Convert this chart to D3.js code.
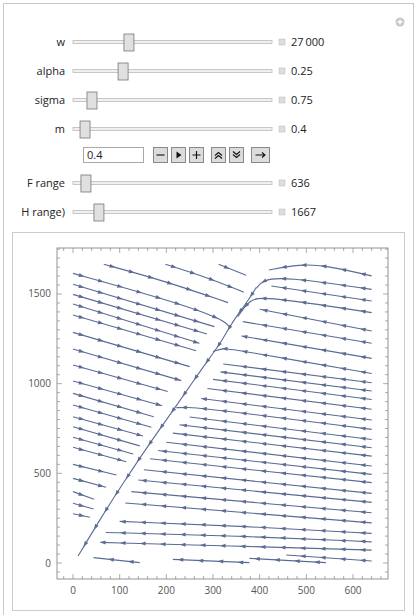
<!DOCTYPE html>
<html><head><meta charset="utf-8">
<script src="https://cdn.jsdelivr.net/npm/d3@7"></script>
<style>body{margin:0;background:#fff}svg{display:block}text{font-family:"Open Sans","DejaVu Sans",sans-serif}</style>
</head><body><svg id="c" width="417" height="615"></svg>
<script>
const sliderLabels=["w","alpha","sigma","m","F range","H range)"];
const sliderValues=["27\u2009000","0.25","0.75","0.4","636","1667"];
const sliderPos=[0.262,0.23,0.06,0.022,0.027,0.098];
const xTicks=[0,100,200,300,400,500,600];
const yTicks=[0,500,1000,1500];
// streamlines in data coordinates, listed in flow direction
const leftLines=[
[[66,1666],[200,1570],[332,1452]],
[[198,1666],[290,1590],[366,1510]],
[[312,1666],[371,1604]],
[[0,1615],[200,1470],[320,1362],[334,1320]],
[[0,1554],[303,1318]],
[[0,1498],[287,1277]],
[[0,1444],[271,1225]],
[[0,1383],[264,1184]],
[[0,1286],[250,1095]],
[[0,1193],[232,1017]],
[[0,1104],[203,956]],
[[0,1015],[191,877]],
[[0,946],[173,816]],
[[0,881],[168,757]],
[[0,816],[150,708]],
[[0,760],[143,653]],
[[0,701],[129,608]],
[[0,645],[114,565]],
[[0,550],[93,491]],
[[0,472],[71,422]],
[[0,398],[45,355]],
[[0,333],[44,301]],
[[0,275],[36,255]]];
const manifold=[[393,1537],[375,1463],[351,1378],[336,1318],[320,1244],[300,1169],[264,1039],[228,900],[164,667],[107,444],[57,240],[11,39]];
const rightLines=[
[[640,1601],[540,1660],[486,1666],[420,1634]],
[[640,1526],[450,1597],[407,1578],[393,1532]],
[[640,1461],[425,1545]],
[[640,1396],[407,1489],[378,1467],[353,1374]],
[[640,1294],[400,1415]],
[[640,1225],[364,1346]],
[[640,1141],[361,1266]],
[[640,1057],[345,1190],[321,1199],[300,1179]],
[[640,1005],[322,1110]],
[[640,959],[316,1066]],
[[640,912],[300,1024]],
[[640,857],[288,973]],
[[640,797],[275,917]],
[[640,745],[275,866],[243,868],[221,866]],
[[640,689],[250,814]],
[[640,643],[228,771]],
[[640,596],[214,724]],
[[640,541],[200,673]],
[[640,494],[182,627]],
[[640,448],[165,581]],
[[640,388],[152,520]],
[[640,338],[140,463]],
[[640,280],[125,398]],
[[640,224],[112,335]],
[[640,165],[370,205],[100,232]],
[[640,118],[350,152],[70,170]],
[[640,72],[330,96],[59,115]],
[[143,2],[44,30]],
[[378,2],[214,20]],
[[542,2],[378,26]],
[[640,11],[457,45]]];

const svg=d3.select("#c");
svg.append("rect").attr("x",3.5).attr("y",3.5).attr("width",410).attr("height",620).attr("fill","#fff").attr("stroke","#c8c8c8");
svg.append("circle").attr("cx",400).attr("cy",22).attr("r",4.5).attr("fill","#c8c8c8");
svg.append("path").attr("d","M397.5,22H402.5M400,19.5V24.5").attr("stroke","#fff").attr("stroke-width",1.3);
const sy=[42,71,100,129,183,212];
const tx0=73,tx1=272;
sliderLabels.forEach((l,i)=>{
  const y=sy[i];
  svg.append("text").attr("x",65).attr("y",y+4).attr("text-anchor","end").attr("font-size",11).attr("fill","#222").text(l);
  svg.append("rect").attr("x",tx0).attr("y",y-1.5).attr("width",tx1-tx0).attr("height",3).attr("fill","#f0f0f0").attr("stroke","#bbb").attr("stroke-width",0.8);
  const cx=tx0+8+sliderPos[i]*(tx1-tx0-16);
  svg.append("rect").attr("x",cx-5).attr("y",y-8).attr("width",10).attr("height",17).attr("fill","#e0e0e0").attr("stroke","#777").attr("stroke-width",0.8);
  svg.append("rect").attr("x",279).attr("y",y-3).attr("width",6).attr("height",6).attr("fill","#ddd").attr("stroke","#bbb").attr("stroke-width",0.5);
  svg.append("text").attr("x",291).attr("y",y+4).attr("font-size",11).attr("fill","#222").text(sliderValues[i]);
});
svg.append("rect").attr("x",83.5).attr("y",147.5).attr("width",60).attr("height",15).attr("fill","#fff").attr("stroke","#aaa");
svg.append("text").attr("x",87).attr("y",159).attr("font-size",11).attr("fill","#222").text("0.4");
const btns=[[153,14,"M-4,0H4"],[171,14,"M-2,-3.5L3,0L-2,3.5Z"],[189,14,"M-4,0H4M0,-4V4"],[211,14,"M-3.5,0.5L0,-2.5L3.5,0.5M-3.5,3.5L0,0.5L3.5,3.5"],[229,14,"M-3.5,-3.5L0,-0.5L3.5,-3.5M-3.5,-0.5L0,2.5L3.5,-0.5"],[251,18,"M-5,0H4M1.5,-2.5L4.5,0L1.5,2.5"]];
btns.forEach(([x,w,d],k)=>{
  svg.append("rect").attr("x",x+.5).attr("y",147.5).attr("width",w).attr("height",15).attr("fill","#dcdcdc").attr("stroke","#888");
  svg.append("path").attr("d",d).attr("transform",`translate(${x+w/2+.5},155)`).attr("fill",k===1?"#111":"none").attr("stroke","#111").attr("stroke-width",k===1?0:1.1);
});
svg.append("rect").attr("x",12.5).attr("y",232.5).attr("width",392).attr("height",378).attr("fill","#fff").attr("stroke","#ccc");
const x=d3.scaleLinear().domain([-34.3,675]).range([57,388]);
const y=d3.scaleLinear().domain([-89.2,1756.5]).range([579,248]);
const g=svg.append("g");
g.append("rect").attr("x",57).attr("y",248).attr("width",331).attr("height",331).attr("fill","none").attr("stroke","#888").attr("stroke-width",0.9);
const tcol="#888";
const xt=d3.range(-20,680,20), yt=d3.range(-50,1751,50);
xt.forEach(v=>{const px=x(v),L=v%100===0?5:3;
  g.append("line").attr("x1",px).attr("x2",px).attr("y1",579).attr("y2",579-L).attr("stroke",tcol).attr("stroke-width",0.7);
  g.append("line").attr("x1",px).attr("x2",px).attr("y1",248).attr("y2",248+L).attr("stroke",tcol).attr("stroke-width",0.7);});
yt.forEach(v=>{const py=y(v),L=v%500===0?5:3; if(py<248||py>579)return;
  g.append("line").attr("x1",57).attr("x2",57+L).attr("y1",py).attr("y2",py).attr("stroke",tcol).attr("stroke-width",0.7);
  g.append("line").attr("x1",388).attr("x2",388-L).attr("y1",py).attr("y2",py).attr("stroke",tcol).attr("stroke-width",0.7);});
xTicks.forEach(v=>g.append("text").attr("x",x(v)).attr("y",594).attr("text-anchor","middle").attr("font-size",10).attr("fill","#555").text(v));
yTicks.forEach(v=>g.append("text").attr("x",51).attr("y",y(v)+3.5).attr("text-anchor","end").attr("font-size",10).attr("fill","#555").text(v));
const col="#5b6b93";
const line=d3.line().x(d=>x(d[0])).y(d=>y(d[1])).curve(d3.curveBasis);
const all=leftLines.concat(rightLines,[manifold]);
all.forEach(pts=>{
  const p=g.append("path").attr("d",line(pts)).attr("fill","none").attr("stroke",col).attr("stroke-width",1.1);
  const node=p.node(),len=node.getTotalLength();
  for(let s=9;s<len-2;s+=20){
    const a=node.getPointAtLength(s),b=node.getPointAtLength(Math.min(len,s+1));
    const ang=Math.atan2(b.y-a.y,b.x-a.x)*180/Math.PI;
    g.append("path").attr("d","M2.8,0L-2.8,-2L-2.8,2Z").attr("fill",col)
      .attr("transform",`translate(${a.x},${a.y}) rotate(${ang})`);
  }
});
</script></body></html>
